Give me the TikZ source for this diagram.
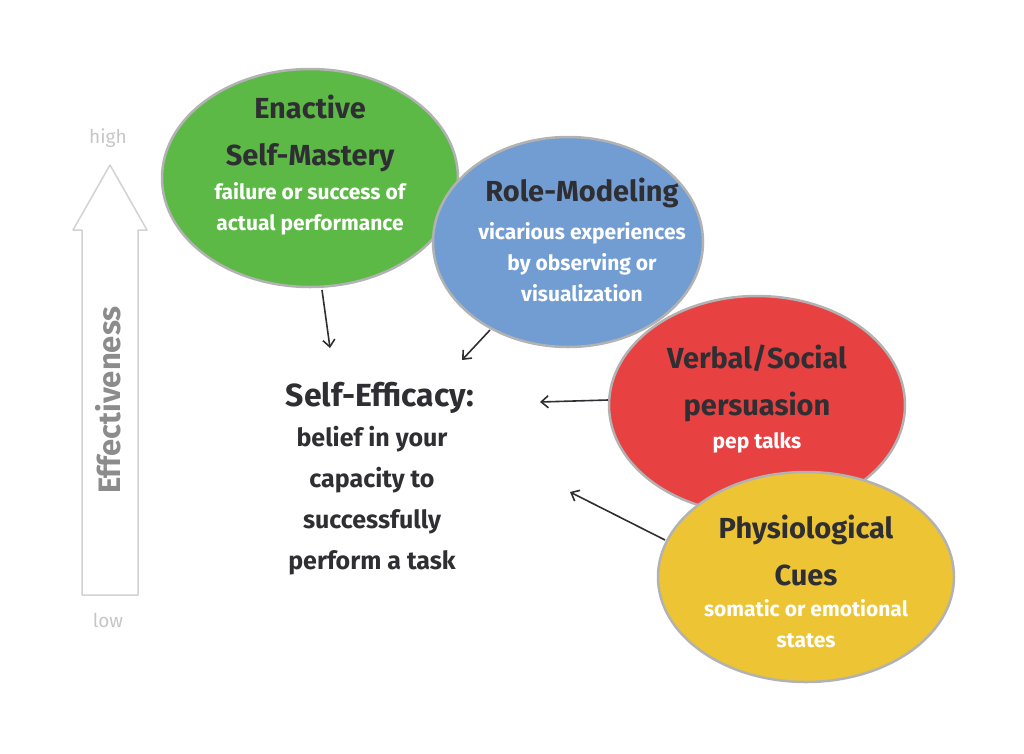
\documentclass[tikz,border=0pt]{standalone}
\usepackage{fontspec}
\setmainfont{Fira Sans}
\usetikzlibrary{shapes.geometric,arrows.meta}
\definecolor{cgreen}{HTML}{5CB946}
\definecolor{cblue}{HTML}{729DD3}
\definecolor{cred}{HTML}{E84142}
\definecolor{cyel}{HTML}{EDC434}
\definecolor{dark}{HTML}{2F2F33}
\begin{document}
\begin{tikzpicture}[x=1pt,y=-1pt,
  blob/.style={ellipse,draw=gray!60,line width=2.5pt,inner sep=0pt},
  ttl/.style={text=dark,font=\bfseries\fontsize{29}{47}\selectfont,align=center},
  sub/.style={text=white,font=\bfseries\fontsize{21}{31}\selectfont,align=center},
  arr/.style={-{Straight Barb[length=7pt,width=12pt]},line width=1.6pt,dark}]
\useasboundingbox (0,0) rectangle (1024,753);
\node[blob,fill=cgreen,minimum width=296,minimum height=218] (g) at (310,178) {};
\node[blob,fill=cblue,minimum width=270,minimum height=210] (b) at (568,242) {};
\node[blob,fill=cred,minimum width=296,minimum height=218] (r) at (757,405) {};
\node[blob,fill=cyel,minimum width=296,minimum height=210] (y) at (806,577) {};
\node[ttl] (gt) at (310,133) {Enactive\\Self-Mastery};
\node[sub] (gs) at (310,209) {failure or success of\\actual performance};
\node[ttl] (bt) at (582,193) {Role-Modeling};
\node[sub] (bs) at (582,262) {vicarious experiences\\by observing or\\visualization};
\node[ttl] (rt) at (757,383) {Verbal/Social\\persuasion};
\node[sub] (rs) at (757,443) {pep talks};
\node[ttl] (yt) at (806,550) {Physiological\\Cues};
\node[sub] (ys) at (806,624) {somatic or emotional\\states};
\node[text=dark,font=\bfseries\fontsize{32}{36}\selectfont] (se) at (380,398) {Self-Efficacy:};
\node[text=dark,font=\bfseries\fontsize{25}{41}\selectfont,align=center] (sd) at (372,501) {belief in your\\capacity to\\successfully\\perform a task};
\coordinate (a1) at (322,290); \coordinate (a1e) at (330,348);
\coordinate (a2) at (490,330); \coordinate (a2e) at (462,360);
\coordinate (a3) at (608,400); \coordinate (a3e) at (540,402);
\coordinate (a4) at (665,540); \coordinate (a4e) at (570,492);
\draw[arr] (a1) -- (a1e);
\draw[arr] (a2) -- (a2e);
\draw[arr] (a3) -- (a3e);
\draw[arr] (a4) -- (a4e);
\draw[gray!35,line width=1.5pt,line join=round] (82,595) -- (82,230) -- (73,230) -- (110,165) -- (147,230) -- (138,230) -- (138,595) -- cycle;
\node[gray!45,font=\fontsize{19}{22}\selectfont] (hi) at (108,138) {high};
\node[gray!45,font=\fontsize{19}{22}\selectfont] (lo) at (108,620) {low};
\node[gray!90,font=\bfseries\fontsize{31}{36}\selectfont,rotate=90] (ef) at (108,400) {Effectiveness};
\end{tikzpicture}
\end{document}
